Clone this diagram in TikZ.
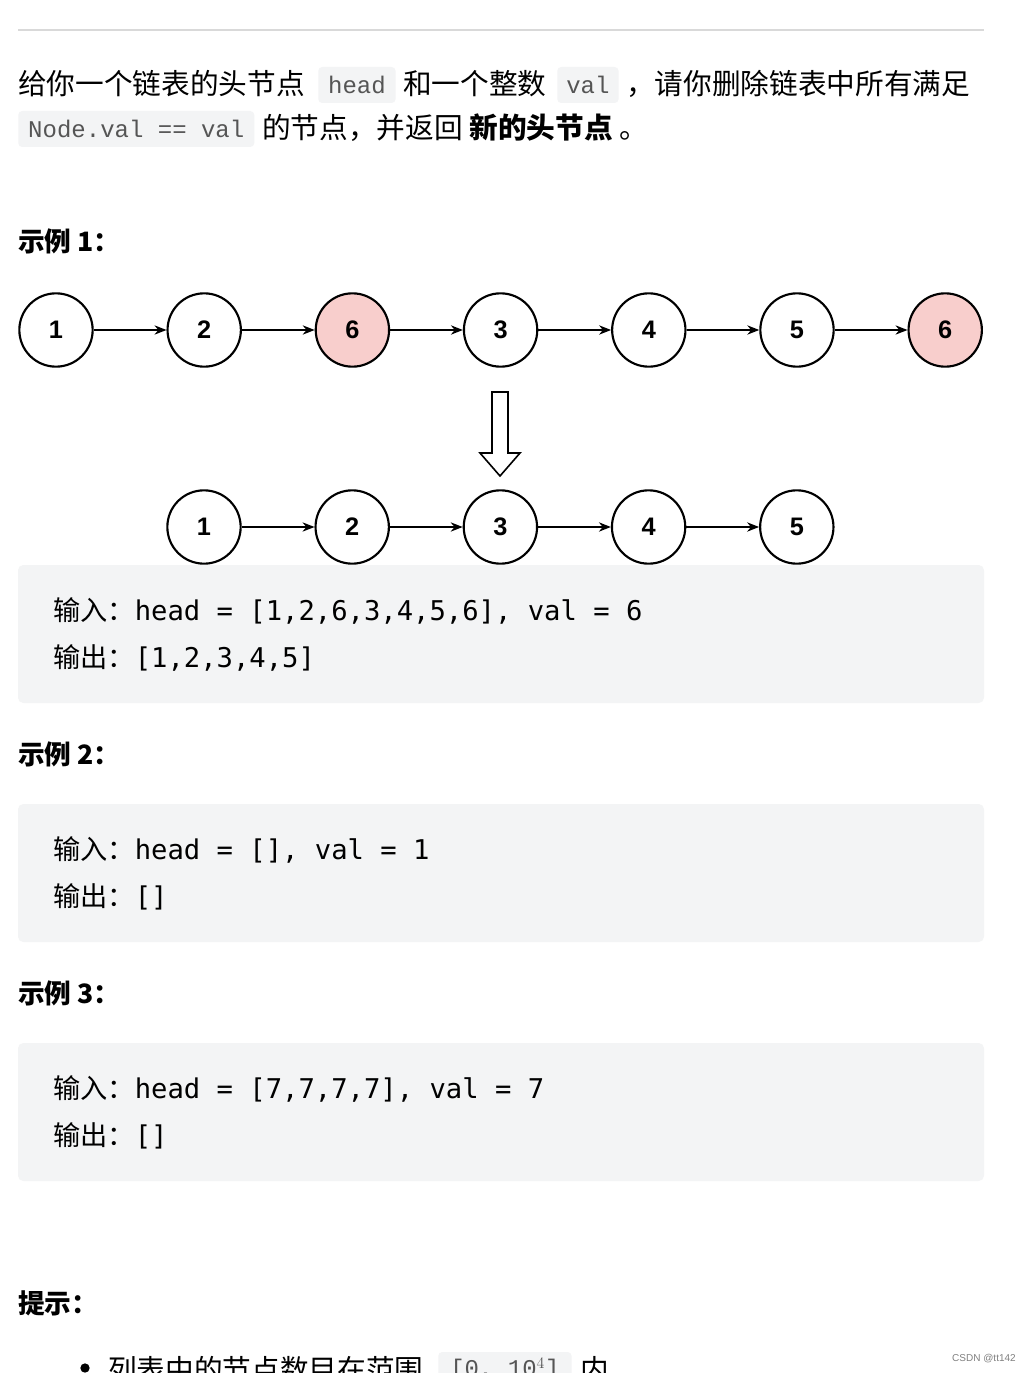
\documentclass[tikz,border=0pt]{standalone}
\usepackage{fontspec}
\setmainfont{Noto Sans CJK SC}
\newfontfamily\cjk{Noto Sans CJK SC}
\newfontfamily\mono{DejaVu Sans Mono}
\newfontfamily\inl{Liberation Mono}
\newfontfamily\arl{Liberation Sans}
\usetikzlibrary{arrows.meta}
\definecolor{codebg}{HTML}{F3F4F5}
\definecolor{pink}{HTML}{F8CECC}
\definecolor{inlfg}{HTML}{555555}
\tikzset{
 ll/.style={circle,draw=black,line width=1.6pt,minimum size=55pt,inner sep=0pt,font=\fontsize{19}{19}\arl\bfseries,fill=white},
 del/.style={ll,fill=pink},
 lk/.style={-{Stealth[length=9pt,width=7pt]},line width=1pt},
 txt/.style={anchor=base west,inner sep=0pt,font=\fontsize{21.5}{24}\cjk},
 head/.style={anchor=base west,inner sep=0pt,font=\fontsize{20}{24}\cjk\bfseries},
 codet/.style={anchor=base west,inner sep=0pt,font=\fontsize{20.4}{24}\mono},
 incode/.style={fill=codebg,rounded corners=3pt,inner sep=0pt,font=\fontsize{18}{20}\inl\color{inlfg},minimum height=27pt,anchor=west},
 cbox/.style={fill=codebg,rounded corners=4pt}
}
\begin{document}
\begin{tikzpicture}[x=0.75pt,y=-0.75pt]
\useasboundingbox[fill=white] (0,0) rectangle (1030,1373);
\clip (0,0) rectangle (1030,1373);
\draw[gray!30,line width=1pt] (18,30) -- (984,30);
% intro
\node[txt] (t1) at (18,95) {给你一个链表的头节点};
\node[incode,minimum width=58pt] (c1) at (318,85) {head};
\node[txt] (t2) at (403,95) {和一个整数};
\node[incode,minimum width=46pt] (c2) at (557,85) {val};
\node[txt] (t3) at (626,95) {，请你删除链表中所有满足};
\node[incode,minimum width=177pt] (c3) at (18,129) {Node.val == val};
\node[txt] (t4) at (262,139) {的节点，并返回 {\bfseries 新的头节点} 。};
% example 1
\node[head] (h1) at (18,252) {示例 1：};
\foreach \i/\v/\s in {1/1/ll,2/2/ll,3/6/del,4/3/ll,5/4/ll,6/5/ll,7/6/del}
  \node[\s] (a\i) at ({56+148.2*(\i-1)},330) {\v};
\foreach \i [evaluate=\i as \j using int(\i+1)] in {1,...,6}
  \draw[lk] (a\i) -- (a\j);
\foreach \i/\v in {1/1,2/2,3/3,4/4,5/5}
  \node[ll] (b\i) at ({204+148.2*(\i-1)},527) {\v};
\foreach \i [evaluate=\i as \j using int(\i+1)] in {1,...,4}
  \draw[lk] (b\i) -- (b\j);
\draw[line width=1.2pt,fill=white] (492,392) -- (508,392) -- (508,453) -- (520,453) -- (500,476) -- (480,453) -- (492,453) -- cycle;
\fill[cbox] (18,565) rectangle (984,703);
\node[codet] (i1) at (53,620) {{\cjk 输入：}head = [1,2,6,3,4,5,6], val = 6};
\node[codet] (o1) at (53,667) {{\cjk 输出：}[1,2,3,4,5]};
% example 2
\node[head] (h2) at (18,764) {示例 2：};
\fill[cbox] (18,804) rectangle (984,942);
\node[codet] (i2) at (53,859) {{\cjk 输入：}head = [], val = 1};
\node[codet] (o2) at (53,906) {{\cjk 输出：}[]};
% example 3
\node[head] (h3) at (18,1003) {示例 3：};
\fill[cbox] (18,1043) rectangle (984,1181);
\node[codet] (i3) at (53,1098) {{\cjk 输入：}head = [7,7,7,7], val = 7};
\node[codet] (o3) at (53,1145) {{\cjk 输出：}[]};
% hints
\node[head] (h4) at (18,1313) {提示：};
\fill (85,1368) circle (3.5pt);
\node[txt] (t5) at (108,1380) {列表中的节点数目在范围};
\node[incode,minimum width=100pt] (c4) at (438,1370) {[0, 10$^{4}$]};
\node[txt] (t6) at (580,1380) {内};
\node[anchor=east,inner sep=0pt,font=\fontsize{7.5}{8}\arl\color{gray}] (wm) at (1016,1359) {CSDN @tt142};
\end{tikzpicture}
\end{document}
